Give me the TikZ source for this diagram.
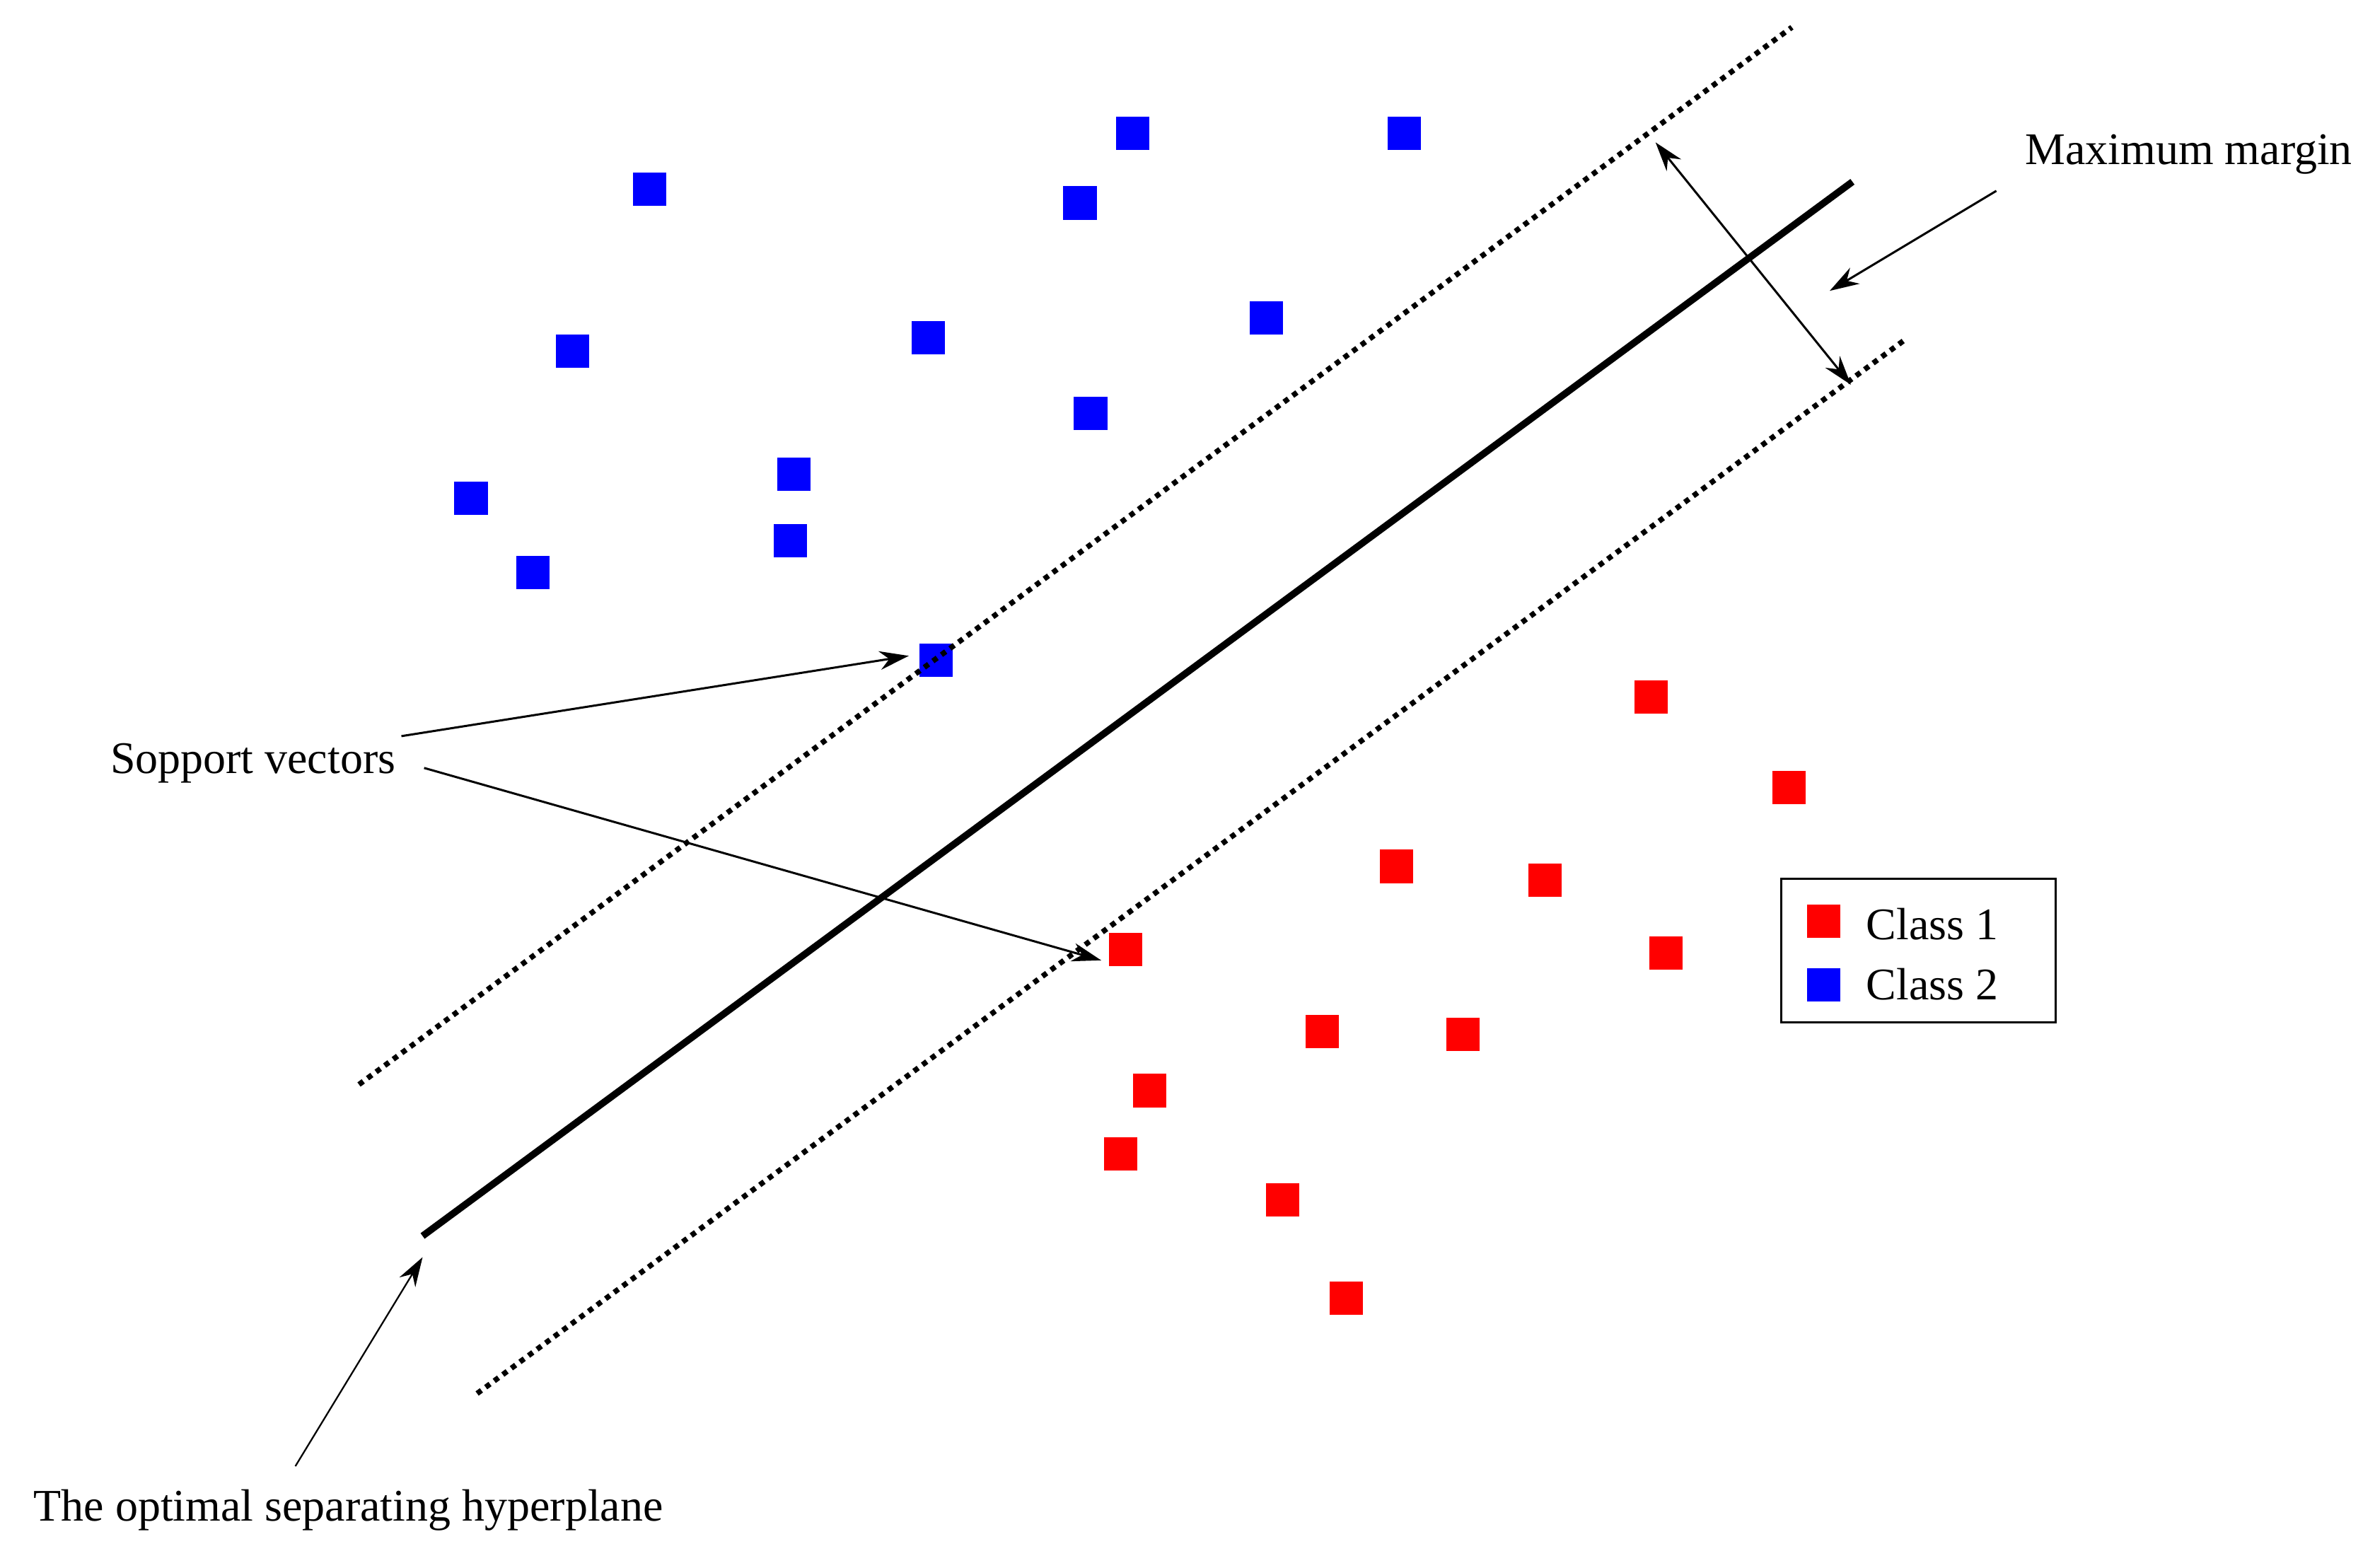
\documentclass[tikz,border=0pt]{standalone}
\usepackage{fontspec}
\setmainfont{Liberation Serif}
\usetikzlibrary{arrows.meta}
\tikzset{
  pt/.style={draw=none,minimum size=0.44cm,inner sep=0pt},
  c1/.style={pt,fill=red},
  c2/.style={pt,fill=blue},
  lbl/.style={font=\fontsize{17}{20}\selectfont},
  arr/.style={-{Stealth[length=11pt,width=7pt]},line width=0.8pt}
}
\begin{document}
\begin{tikzpicture}[x=0.02cm,y=-0.02cm]
\useasboundingbox (0,0) rectangle (1568,1035);
% class 2
\foreach \x/\y [count=\i] in {748/88,927/88,429/125,713/134,378/232,613/223,836/210,720/273,311/329,524/313,522/357,352/378,618/436}
  \node[c2] (b\i) at (\x,\y) {};
% class 1
\foreach \x/\y [count=\i] in {1090/460,1181/520,922/572,1020/581,743/627,1100/629,873/681,966/683,759/720,740/762,847/792,889/857}
  \node[c1] (r\i) at (\x,\y) {};
% hyperplanes
\coordinate (u0) at (237,716); \coordinate (u1) at (1183,18);
\coordinate (h0) at (279,816); \coordinate (h1) at (1223,120);
\coordinate (l0) at (315,920); \coordinate (l1) at (1258,224);
\draw[line width=2pt,dotted] (u0) -- (u1);
\draw[line width=2.6pt] (h0) -- (h1);
\draw[line width=2pt,dotted] (l0) -- (l1);
% margin
\coordinate (m0) at (1093,94); \coordinate (m1) at (1222,254);
\draw[arr,{Stealth[length=11pt,width=7pt]}-{Stealth[length=11pt,width=7pt]}] (m0) -- (m1);
\node[lbl] (mm) at (1445,102) {Maximum margin};
\coordinate (ms) at (1318,126); \coordinate (mt) at (1208,192);
\draw[arr] (ms) -- (mt);
% support vectors
\node[lbl] (sv) at (167,504) {Sopport vectors};
\coordinate (sa) at (265,486); \coordinate (s1) at (600,433);
\coordinate (sb) at (280,507); \coordinate (s2) at (727,634);
\draw[arr] (sa) -- (s1);
\draw[arr] (sb) -- (s2);
% hyperplane label
\node[lbl] (hp) at (230,997) {The optimal separating hyperplane};
\coordinate (ht) at (279,830); \coordinate (hs) at (195,968);
\draw[arr,line width=0.6pt] (hs) -- (ht);
% legend
\node[draw,line width=0.8pt,minimum width=181*0.02cm,minimum height=95*0.02cm] (leg) at (1266.5,627.5) {};
\node[c1] (k1) at (1204,608) {};
\node[c2] (k2) at (1204,650) {};
\node[lbl,anchor=west] (t1) at (1226,610) {Class 1};
\node[lbl,anchor=west] (t2) at (1226,650) {Class 2};
\end{tikzpicture}
\end{document}
